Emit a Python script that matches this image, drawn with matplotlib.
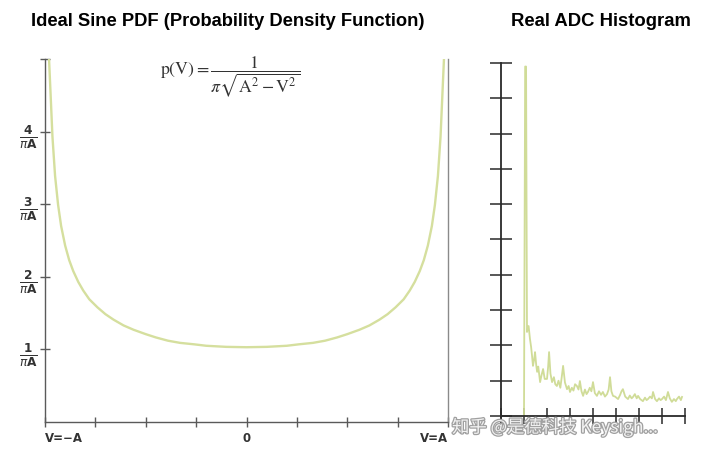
import numpy as np
import matplotlib.pyplot as plt
import matplotlib.patheffects as pe

# ideal sine pdf (units of 1/(pi*A)), left half
v_half = [-0.988, -0.98, -0.972, -0.963, -0.95, -0.935, -0.92, -0.90, -0.88, -0.86,
          -0.835, -0.81, -0.78, -0.74, -0.70, -0.66, -0.61, -0.56, -0.50, -0.45,
          -0.39, -0.33, -0.26, -0.20, -0.10]
p_half = [5.2, 5.0, 4.5, 3.93, 3.39, 2.99, 2.70, 2.43, 2.23, 2.08,
          1.93, 1.81, 1.69, 1.58, 1.485, 1.41, 1.33, 1.27, 1.21, 1.165,
          1.12, 1.09, 1.07, 1.05, 1.035]
p_center = 1.03

# real ADC histogram (x in tick units, y in tick units)
hist_x = [1.00, 1.05, 1.09, 1.13, 1.20, 1.26, 1.31, 1.35, 1.39, 1.44, 1.48, 1.53, 1.57,
          1.62, 1.70, 1.76, 1.83, 1.90, 2.00, 2.05, 2.09, 2.15, 2.22, 2.30, 2.36, 2.43,
          2.50, 2.58, 2.64, 2.70, 2.78, 2.87, 2.94, 3.00, 3.08, 3.15, 3.22, 3.30, 3.37,
          3.43, 3.50, 3.57, 3.65, 3.72, 3.78, 3.86, 3.93, 4.00, 4.08, 4.17, 4.26, 4.35,
          4.43, 4.52, 4.61, 4.68, 4.74, 4.80, 4.87, 4.96, 5.09, 5.18, 5.24, 5.30, 5.40,
          5.52, 5.60, 5.68, 5.74, 5.82, 5.90, 5.96, 6.05, 6.17, 6.26, 6.33, 6.39, 6.48,
          6.56, 6.61, 6.70, 6.78, 6.87, 6.94, 7.00, 7.09, 7.17, 7.26, 7.34, 7.43, 7.52,
          7.60, 7.65, 7.74, 7.82, 7.87]
hist_y = [0.0, 9.9, 9.9, 2.38, 2.55, 2.18, 1.95, 1.70, 1.42, 1.60, 1.81, 1.45, 1.25,
          1.40, 0.96, 1.15, 1.33, 1.05, 1.05, 1.40, 1.81, 1.20, 0.96, 1.10, 0.90, 0.85,
          1.00, 0.80, 1.10, 1.42, 0.95, 0.76, 0.85, 0.68, 0.80, 0.72, 0.90, 0.85, 0.75,
          0.99, 0.70, 0.57, 0.75, 0.62, 0.68, 0.80, 0.70, 0.96, 0.65, 0.57, 0.70, 0.60,
          0.68, 0.55, 0.62, 0.75, 1.10, 0.70, 0.57, 0.55, 0.48, 0.60, 0.70, 0.76, 0.55,
          0.48, 0.58, 0.50, 0.54, 0.62, 0.50, 0.57, 0.48, 0.42, 0.52, 0.45, 0.48, 0.55,
          0.50, 0.68, 0.48, 0.42, 0.50, 0.45, 0.48, 0.55, 0.45, 0.68, 0.50, 0.40, 0.48,
          0.42, 0.48, 0.55, 0.45, 0.54]

ytick_vals = [1, 2, 3, 4, 5]
ytick_labels = [r'$\frac{\mathbf{%d}}{\pi\mathbf{A}}$' % n for n in range(1, 5)] + ['']
xtick_vals = [-1, -0.75, -0.5, -0.25, 0, 0.25, 0.5, 0.75, 1]
xtick_labels = ['V=\u2212A', '', '', '', '0', '', '', '', 'V=A']

v = v_half + [0.0] + [-x for x in v_half[::-1]]
p = p_half + [p_center] + p_half[::-1]

axis_col = '#5a5a5a'
curve_col = '#d5df9e'
hist_col = '#d0dc98'
title_font = ['Liberation Sans', 'DejaVu Sans']

fig = plt.figure(figsize=(7.2, 4.56), dpi=100)

# left panel: ideal pdf
ax = fig.add_axes([45 / 720, 33 / 456, 403 / 720, 363 / 456])
ax.plot(v, p, color=curve_col, lw=1.7, solid_capstyle='round')
ax.set_xlim(-1, 1)
ax.set_ylim(0, 5)
ax.spines['top'].set_visible(False)
for s in ['left', 'bottom', 'right']:
    ax.spines[s].set_color(axis_col)
    ax.spines[s].set_linewidth(1.0)
ax.spines['right'].set_color('#8a8a8a')
ax.set_yticks(ytick_vals)
ax.set_yticklabels(ytick_labels, fontsize=12.5, color='#333333')
for lab in ax.get_yticklabels():
    lab.set_math_fontfamily('dejavusans')
ax.set_xticks(xtick_vals)
ax.set_xticklabels(xtick_labels, fontsize=8.5, fontweight='bold', color='#333333')
xl = ax.get_xticklabels()
xl[0].set_ha('left')
xl[-1].set_ha('right')
ax.tick_params(axis='both', direction='inout', length=7, width=1, color=axis_col, pad=3)
ax.tick_params(axis='y', pad=2)

ax.text(-0.08, 4.77, r'$\mathrm{p(V)}=\dfrac{1}{\pi\sqrt{\mathrm{A^2-V^2}}}$',
        fontsize=12.8, ha='center', va='center', color='#333333', math_fontfamily='stix')

# right panel: real histogram
ax2 = fig.add_axes([501 / 720, 27 / 456, 184 / 720, 365 / 456])
ax2.plot(hist_x, hist_y, color=hist_col, lw=1.3)
ax2.set_xlim(0, 8)
ax2.set_ylim(-0.34, 10)
for s in ['top', 'right']:
    ax2.spines[s].set_visible(False)
for s in ['left', 'bottom']:
    ax2.spines[s].set_color('#2a2a2a')
    ax2.spines[s].set_linewidth(1.3)
ax2.spines['bottom'].set_position(('data', 0))
ax2.set_xticks(range(0, 9))
ax2.set_yticks(range(0, 11))
ax2.set_xticklabels([])
ax2.set_yticklabels([])
ax2.tick_params(axis='y', direction='inout', length=16, width=1.1, color='#2a2a2a')
ax2.tick_params(axis='x', direction='inout', length=12, width=1.1, color='#2a2a2a')

fig.text(228 / 720, 1 - 22 / 456, 'Ideal Sine PDF (Probability Density Function)',
         family=title_font, fontweight='bold', fontsize=13.2, ha='center', va='center')
fig.text(601 / 720, 1 - 22 / 456, 'Real ADC Histogram',
         family=title_font, fontweight='bold', fontsize=13.3, ha='center', va='center')

fig.text(452 / 720, 1 - 428 / 456, '知乎 @是德科技 Keysigh...',
         family=['Noto Sans CJK SC', 'DejaVu Sans'], fontsize=12.5, color='#f2f2f2',
         ha='left', va='center',
         path_effects=[pe.withStroke(linewidth=1.8, foreground='#a0a0a0')])

fig.savefig('out.png', dpi=100)
